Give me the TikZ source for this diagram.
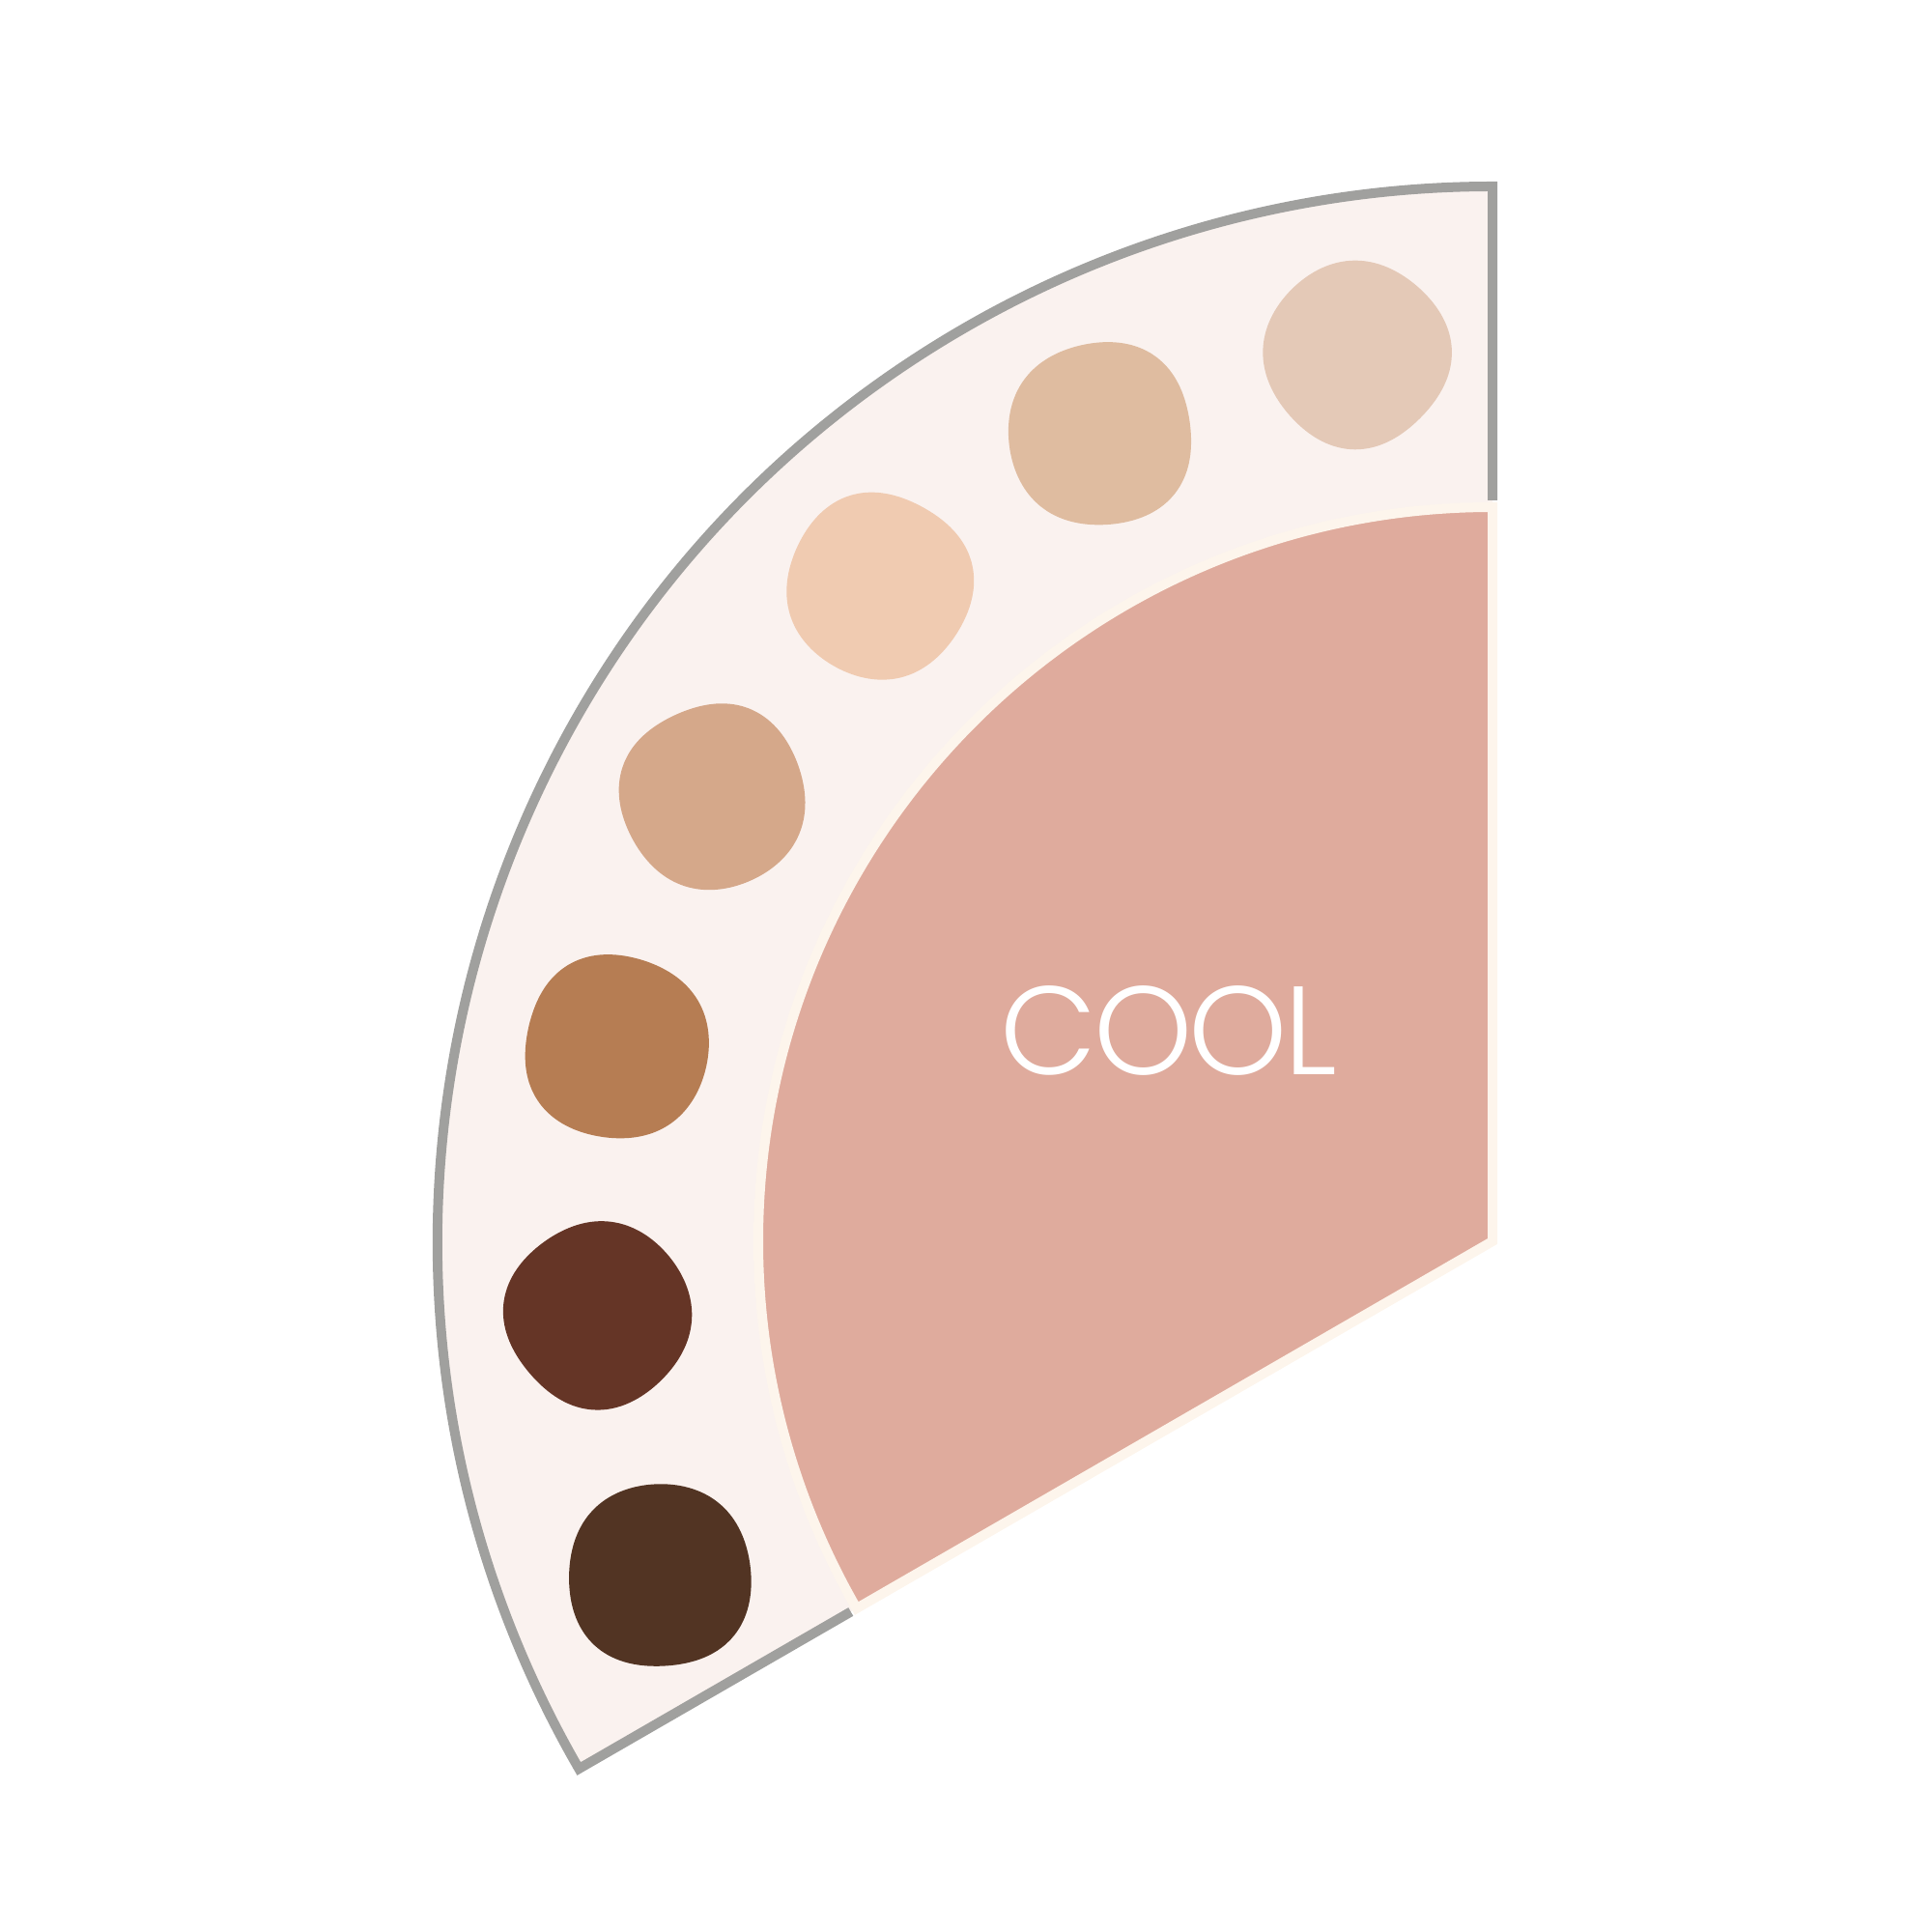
\documentclass[tikz,border=0pt]{standalone}
\usepackage{fontspec}
\newfontfamily\coolfont{Poppins Light}[LetterSpace=-3]
\definecolor{ringfill}{HTML}{FAF2EF}
\definecolor{rimgray}{HTML}{A0A09E}
\definecolor{coolpink}{HTML}{DFAB9D}
\definecolor{creamrim}{HTML}{FDF5EC}
\definecolor{tone1}{HTML}{E4C9B7}
\definecolor{tone2}{HTML}{DFBCA0}
\definecolor{tone3}{HTML}{F0CBB1}
\definecolor{tone4}{HTML}{D5A88A}
\definecolor{tone5}{HTML}{B67D53}
\definecolor{tone6}{HTML}{653526}
\definecolor{tone7}{HTML}{523423}
\begin{document}
\begin{tikzpicture}[rim/.style={draw=rimgray,line width=1mm,line join=miter},
        every node/.style={inner sep=0pt}]
    \useasboundingbox (0,0) rectangle (20,20);
    \begin{scope}[shift={(15.45,7.15)}]
        % ring
        \fill[ringfill] (0,0) -- (90:10.92) arc[start angle=90,end angle=210,radius=10.92] -- cycle;
        \draw[rim] (210:7.67) -- (210:10.92) arc[start angle=210,end angle=90,radius=10.92] -- (90:7.67);

        % inner sector
        \filldraw[fill=coolpink,draw=creamrim,line width=1mm] (0,0) -- (90:7.60)
            arc[start angle=90,end angle=210,radius=7.60] -- cycle;

        % swatches
        \foreach \col [count=\i from 0] in {tone1,tone2,tone3,tone4,tone5,tone6,tone7} {
            \begin{scope}[shift={({98.7+17.2*\i}:9.29)},rotate=53*\i]
                \fill[\col] plot[domain=0:360,samples=72,smooth cycle]
                    (\x:{0.96+0.018*cos(4*\x)+0.01*sin(3*\x+40)});
            \end{scope}
        }
    \end{scope}

    \node[text=white,font=\coolfont\fontsize{37}{37}\selectfont] (cool) at (12.10,9.33) {COOL};
\end{tikzpicture}
\end{document}
